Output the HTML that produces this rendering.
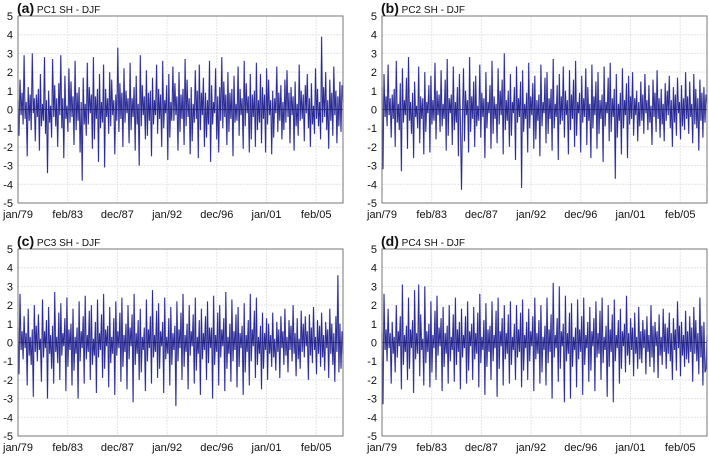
<!DOCTYPE html>
<html><head><meta charset="utf-8"><style>
body{margin:0;background:#fff;width:709px;height:455px;overflow:hidden;font-family:"Liberation Sans",sans-serif}
svg text{font-family:"Liberation Sans",sans-serif}
</style></head><body>
<svg id="fig" width="709" height="455"></svg>
<script>
const xLabels=["jan/79","feb/83","dec/87","jan/92","dec/96","jan/01","feb/05"];
const yTicks=[5,4,3,2,1,0,-1,-2,-3,-4,-5];
const titles=["PC1 SH - DJF","PC2 SH - DJF","PC3 SH - DJF","PC4 SH - DJF"];
const letters=["(a)","(b)","(c)","(d)"];
const pc1=[
0.5,-1.4,1.6,-0.3,0.9,-0.8,2.9,-0.5,0.4,-2.5,1.2,-0.6,0.8,-1.1,3.0,-0.2,0.6,-1.7,0.8,-0.4,
1.1,-2.2,1.9,-0.9,0.3,-0.6,2.8,-1.3,0.5,-3.4,1.0,-0.7,0.2,-1.5,2.7,-0.4,1.3,-0.9,0.6,-2.0,
1.4,-0.3,2.9,-1.0,0.6,-2.6,1.8,-0.5,0.2,-1.2,2.2,-0.7,1.5,-0.4,0.7,-1.9,2.6,-1.1,0.9,-0.6,
1.2,-2.3,0.4,-3.8,1.7,-0.8,0.3,-1.4,2.5,-0.8,1.2,-0.2,0.8,-2.1,2.8,-1.6,0.7,-0.5,1.1,-2.8,
1.9,-1.0,0.4,-0.7,2.4,-3.1,1.1,-0.4,0.6,-1.3,2.0,-0.9,1.6,-0.3,0.5,-2.4,0.8,-0.6,3.3,-1.2,
1.4,-0.5,0.9,-2.0,2.2,-0.7,1.0,-0.2,0.6,-1.8,2.5,-1.1,0.6,-0.4,1.2,-2.2,1.8,-0.8,0.3,-3.0,
2.9,-0.9,1.3,-0.3,0.7,-1.6,2.1,-1.4,0.9,-0.6,1.0,-2.5,1.7,-0.8,0.5,-0.3,2.4,-1.3,1.1,-0.5,
0.8,-2.0,2.6,-1.0,0.5,-0.2,1.3,-2.7,1.9,-1.5,0.4,-0.6,2.3,-0.6,1.4,-0.3,0.7,-2.2,2.0,-1.2,
0.8,-0.5,1.1,-1.9,2.7,-0.9,1.6,-0.4,0.6,-2.4,1.2,-1.7,0.3,-0.7,2.1,-0.5,1.0,-2.6,2.4,-1.1,
0.9,-0.3,1.7,-2.0,0.9,-1.5,0.5,-0.8,2.6,-2.8,1.3,-0.8,0.4,-0.2,2.2,-1.6,0.7,-2.3,1.2,-0.6,
2.8,-1.0,1.5,-0.4,0.8,-1.9,2.0,-1.2,0.9,-0.5,1.1,-2.5,1.8,-0.7,0.3,-0.6,2.3,-1.4,1.1,-0.3,
0.6,-2.1,2.6,-0.9,1.4,-0.2,0.7,-2.3,1.9,-1.6,0.8,-0.4,1.0,-2.0,2.5,-1.1,0.5,-0.7,1.9,-1.8,
1.2,-0.5,0.8,-2.3,2.2,-0.8,1.6,-0.3,0.5,-2.4,1.0,-1.5,0.6,-0.2,2.3,-1.2,0.9,-0.6,1.3,-1.6,
0.4,-1.1,1.6,-0.7,2.1,-0.4,0.9,-1.8,1.2,-0.3,0.7,-2.2,1.5,-0.9,0.3,-1.4,2.4,-0.6,1.0,-0.5,
0.8,-1.7,1.3,-0.2,1.9,-1.0,0.6,-2.0,1.4,-0.8,0.2,-1.3,2.2,-0.5,1.1,-0.9,0.4,-1.6,3.9,-0.7,
1.2,-0.4,2.0,-1.1,0.5,-2.1,1.6,-0.6,0.9,-1.4,2.3,-0.3,1.0,-1.8,0.7,-0.9,1.5,-1.2,1.3,0.4];
const pc2=[
1.2,-3.2,1.9,-0.4,0.7,-0.9,2.4,-0.3,0.6,-1.5,0.8,-0.5,1.1,-2.0,2.6,-0.7,0.3,-1.1,1.4,-3.3,
2.2,-0.7,0.5,-0.3,1.7,-2.1,2.8,-0.6,0.4,-1.3,0.9,-2.6,1.5,-0.4,0.2,-1.0,2.3,-1.8,0.7,-0.5,
0.6,-2.4,2.0,-1.2,0.4,-0.2,1.3,-2.3,1.8,-0.8,0.5,-0.6,2.5,-1.6,1.0,-0.3,0.8,-1.2,2.1,-0.9,
0.3,-0.5,1.6,-2.2,2.7,-1.4,0.6,-0.2,0.8,-1.9,2.3,-1.1,0.4,-0.7,1.2,-2.5,1.9,-0.6,-4.3,-0.4,
2.2,-1.7,1.0,-0.3,0.5,-2.3,2.8,-1.2,0.7,-0.5,1.5,-2.0,1.8,-0.9,0.2,-0.6,2.4,-1.5,0.9,-0.4,
0.6,-2.6,2.0,-1.0,0.4,-0.2,1.3,-2.1,2.6,-1.3,0.7,-0.5,0.3,-1.8,2.2,-0.8,1.0,-0.3,1.6,-2.4,
3.0,-1.1,0.5,-0.6,1.0,-2.0,1.9,-1.4,0.4,-0.2,1.2,-2.7,2.3,-0.7,0.6,-0.4,1.5,-4.2,2.1,-1.2,
0.3,-0.5,0.9,-2.3,2.5,-1.0,0.7,-0.3,1.4,-2.1,1.8,-1.6,0.5,-0.6,0.8,-2.5,2.4,-0.9,0.4,-0.2,
1.7,-1.8,2.0,-1.3,0.6,-0.5,1.1,-2.2,2.7,-1.0,0.3,-0.4,1.3,-2.7,1.9,-0.8,0.7,-0.6,2.3,-1.5,
1.0,-0.3,0.5,-2.4,2.1,-1.1,0.8,-0.5,1.6,-2.0,2.6,-1.4,0.4,-0.2,0.9,-2.3,1.8,-0.7,0.6,-0.4,
2.2,-1.9,1.2,-0.6,0.3,-2.6,2.4,-1.0,0.7,-0.3,1.5,-2.1,2.0,-1.3,0.5,-0.5,0.8,-2.8,2.3,-0.9,
0.4,-0.2,1.7,-1.7,2.5,-1.2,0.6,-0.4,1.1,-3.7,1.9,-1.5,0.3,-0.6,0.9,-2.4,2.2,-1.0,0.5,-0.3,
1.4,-2.6,1.8,-0.8,0.7,-0.5,2.0,-1.4,0.6,-0.3,1.0,-1.7,0.4,-0.9,1.5,-0.6,0.8,-1.3,1.9,-0.2,
0.5,-1.1,1.3,-0.7,0.2,-1.9,1.6,-0.4,0.9,-1.2,2.1,-0.5,0.6,-1.5,1.1,-0.8,0.3,-1.7,1.4,-0.6,
1.0,-0.3,1.8,-1.0,0.5,-2.0,1.2,-0.7,0.8,-1.4,1.7,-0.2,0.4,-1.6,1.3,-0.9,0.6,-1.1,2.0,-0.5,
0.7,-1.3,1.5,-0.4,0.3,-1.8,1.9,-0.8,1.1,-1.0,0.6,-2.2,1.6,-0.6,0.9,-1.5,1.2,-0.7,0.8,0.3];
const pc3=[
0.8,-1.7,2.6,-0.4,0.6,-0.9,1.4,-0.3,0.5,-2.3,1.8,-0.7,0.3,-1.2,0.7,-2.9,2.0,-0.5,0.9,-1.0,
1.5,-0.4,0.2,-2.1,2.3,-0.8,0.6,-0.3,1.2,-3.0,1.9,-0.6,0.4,-1.4,0.9,-2.2,2.7,-0.5,0.3,-1.1,
1.6,-2.0,2.1,-0.7,0.5,-0.2,1.3,-2.6,2.4,-1.3,0.7,-0.4,1.0,-2.3,1.8,-1.5,0.3,-0.6,0.8,-3.0,
2.2,-1.0,0.6,-0.3,1.4,-2.2,2.5,-0.9,0.4,-0.5,1.7,-2.0,2.0,-1.2,0.2,-0.7,1.1,-2.7,2.3,-0.8,
0.5,-0.4,1.5,-1.9,2.6,-1.4,0.7,-0.2,0.9,-2.4,1.9,-1.1,0.3,-0.6,1.3,-2.8,2.2,-0.7,0.6,-0.3,
1.6,-2.1,2.4,-1.3,0.4,-0.5,1.0,-2.5,2.0,-0.9,0.8,-0.2,1.5,-3.2,2.6,-1.2,0.5,-0.6,1.2,-2.0,
1.8,-1.6,0.3,-0.4,0.8,-2.6,2.3,-1.0,0.7,-0.3,1.4,-2.2,2.8,-0.8,0.4,-0.5,1.7,-1.9,2.1,-1.4,
0.6,-0.2,1.1,-2.7,2.4,-0.9,0.3,-0.6,1.3,-2.3,1.9,-1.2,0.5,-0.4,0.9,-3.4,2.2,-1.0,0.7,-0.3,
1.6,-2.0,2.6,-1.3,0.4,-0.5,1.0,-2.5,2.0,-0.7,0.6,-0.2,1.5,-2.2,2.4,-1.5,0.3,-0.6,1.2,-2.8,
1.8,-0.9,0.5,-0.4,1.4,-2.0,2.2,-1.1,0.8,-0.3,0.8,-3.0,2.5,-1.2,0.4,-0.5,1.6,-2.3,2.0,-0.8,
0.7,-0.2,1.3,-2.6,2.7,-1.4,0.3,-0.6,1.0,-2.1,2.3,-1.0,0.6,-0.4,1.5,-2.4,1.9,-1.3,0.5,-0.3,
0.9,-2.8,2.1,-1.6,0.4,-0.5,1.2,-2.3,2.6,-1.0,0.7,-0.2,1.7,-1.9,2.4,-1.2,0.3,-0.6,0.9,-2.5,
1.6,-1.4,0.5,-0.4,1.3,-2.0,1.0,-0.6,0.4,-1.3,1.6,-0.8,0.2,-1.5,1.1,-0.5,0.7,-1.9,1.4,-0.3,
0.6,-1.2,1.8,-0.7,0.3,-1.6,1.2,-0.4,0.9,-1.0,2.0,-0.6,0.5,-1.8,1.3,-0.9,0.2,-1.4,1.7,-0.5,
1.0,-0.8,1.4,-0.2,0.6,-2.0,1.5,-0.7,0.8,-1.1,1.9,-0.4,0.3,-1.7,1.2,-0.6,0.9,-1.3,1.6,-0.8,
0.4,-1.5,1.1,-0.3,0.7,-1.9,1.8,-0.6,1.0,-1.2,0.5,-2.1,1.4,-0.5,3.6,-1.6,1.0,-1.4,0.6,-0.6];
const pc4=[
0.5,-3.3,2.6,-0.4,0.7,-1.0,1.8,-0.3,0.5,-2.2,1.1,-0.6,0.3,-1.6,2.0,-0.8,0.6,-0.2,1.4,-2.5,
3.1,-1.2,0.4,-0.5,0.9,-2.0,2.4,-1.4,0.7,-0.3,1.2,-2.7,2.8,-0.9,0.5,-0.6,3.1,-1.8,1.5,-0.4,
0.2,-2.3,3.0,-1.1,0.6,-0.5,1.0,-2.4,2.2,-1.6,0.4,-0.3,1.7,-2.0,2.5,-0.7,0.8,-0.2,1.3,-2.6,
1.9,-1.3,0.5,-0.6,0.9,-2.2,2.0,-1.0,0.3,-0.4,1.5,-2.1,2.4,-1.2,0.7,-0.5,1.1,-2.5,1.8,-0.8,
0.4,-0.3,1.4,-2.2,2.2,-1.5,0.6,-0.2,1.0,-2.0,1.9,-0.9,0.5,-0.6,1.6,-2.4,2.6,-1.1,0.3,-0.4,
1.2,-2.8,2.1,-1.3,0.7,-0.5,0.9,-2.0,2.2,-1.0,0.4,-0.3,1.7,-2.9,2.4,-1.4,0.6,-0.2,1.3,-2.3,
2.0,-0.9,0.5,-0.6,1.5,-2.2,2.2,-1.2,0.3,-0.4,1.0,-2.0,2.0,-0.8,0.7,-0.5,1.6,-2.4,2.3,-1.5,
0.4,-0.3,1.1,-2.0,1.8,-1.0,0.6,-0.2,1.4,-2.6,2.4,-0.9,0.5,-0.6,1.2,-2.2,2.0,-1.6,0.3,-0.4,
0.9,-2.3,2.4,-1.1,0.7,-0.5,1.5,-3.0,3.2,-0.8,0.4,-0.3,1.3,-2.1,3.0,-1.4,0.6,-0.2,1.0,-3.2,
2.5,-1.0,0.5,-0.6,1.6,-3.0,2.1,-1.3,0.3,-0.4,0.8,-2.4,2.3,-0.9,0.7,-0.5,1.4,-2.8,2.4,-1.2,
0.4,-0.3,1.1,-2.1,1.9,-1.5,0.6,-0.2,1.3,-2.6,2.2,-0.8,0.5,-0.6,1.7,-2.0,2.4,-1.1,0.3,-0.4,
0.9,-2.9,2.0,-1.3,0.7,-0.5,1.5,-3.2,2.3,-1.0,0.4,-0.3,1.2,-2.2,1.8,-1.4,0.6,-0.2,1.0,-1.6,
2.5,-0.7,0.5,-1.2,1.3,-0.4,0.8,-1.8,1.6,-0.6,0.3,-1.4,1.9,-0.9,0.6,-1.1,1.2,-0.3,0.7,-1.7,
1.4,-0.5,0.4,-1.3,2.0,-0.8,0.9,-1.6,1.1,-0.2,0.6,-1.9,1.5,-0.7,0.3,-1.2,1.8,-0.5,1.0,-1.4,
0.8,-0.6,1.6,-1.0,0.5,-2.0,1.3,-0.4,0.7,-1.5,2.2,-0.3,0.9,-1.8,1.1,-0.7,0.4,-1.3,1.7,-0.9,
0.6,-1.1,1.4,-0.5,0.8,-2.1,1.9,-0.6,1.2,-1.0,0.5,-1.7,2.4,-0.8,0.9,-2.3,1.1,-1.6,-1.4,0.4];
const series=[pc1,pc2,pc3,pc4];
const panels=[{x:18,y:16},{x:382,y:16},{x:18,y:249},{x:382,y:249}];
const W=325,H=187;
const NS="http://www.w3.org/2000/svg";
const svg=document.getElementById('fig');
function mk(t,a,p){const e=document.createElementNS(NS,t);for(const k in a)e.setAttribute(k,a[k]);(p||svg).appendChild(e);return e;}
panels.forEach((p,i)=>{
  const g=mk('g',{});
  
  
  const yS=v=>p.y+(5-v)/10*H;
  const xS=k=>p.x+k/(series[i].length-1)*W;
  const xL=k=>p.x+k*49.7;
  yTicks.forEach(v=>{
    const l=mk('line',{x1:p.x,x2:p.x+W,y1:yS(v),y2:yS(v),stroke:'#e4e4e4','stroke-dasharray':'2,1'},g);
    
    
    const t=mk('text',{x:p.x-5,y:yS(v)+4,'text-anchor':'end','font-size':'11',fill:'#111'},g);
    t.textContent=v;
    
    
  });
  xLabels.forEach((s,k)=>{
    const l=mk('line',{x1:xL(k),x2:xL(k),y1:p.y,y2:p.y+H,stroke:'#e4e4e4','stroke-dasharray':'2,1'},g);
    
    
    const t=mk('text',{x:xL(k),y:p.y+H+15,'text-anchor':'middle','font-size':'11',fill:'#111'},g);
    t.textContent=s;
    
    
  });
  const d=series[i];
  const pts=d.map((v,k)=>xS(k).toFixed(1)+','+yS(v).toFixed(1)).join(' ');
  const lightPl=mk('polyline',{points:pts,fill:'none',stroke:'#9a9acc','stroke-width':'1.5','stroke-opacity':'0.7'},g);
  
  
  const pl=mk('polyline',{points:pts,fill:'none',stroke:'#2a2a96','stroke-width':'0.9'},g);
  
  
  const z=mk('line',{x1:p.x,x2:p.x+W,y1:yS(0),y2:yS(0),stroke:'#222266','stroke-width':'0.8'},g);
  
  
  const fr=mk('rect',{x:p.x,y:p.y,width:W,height:H,fill:'none',stroke:'#777','stroke-width':'1'},g);
  
  
  const tt=mk('text',{x:p.x-1,y:p.y-3,'font-family':'Liberation Serif','font-size':'10',fill:'#111'},g);
  tt.innerHTML='<tspan font-size="14" font-weight="bold">'+letters[i]+'</tspan> '+titles[i];
  
  
});
</script>
</body></html>
